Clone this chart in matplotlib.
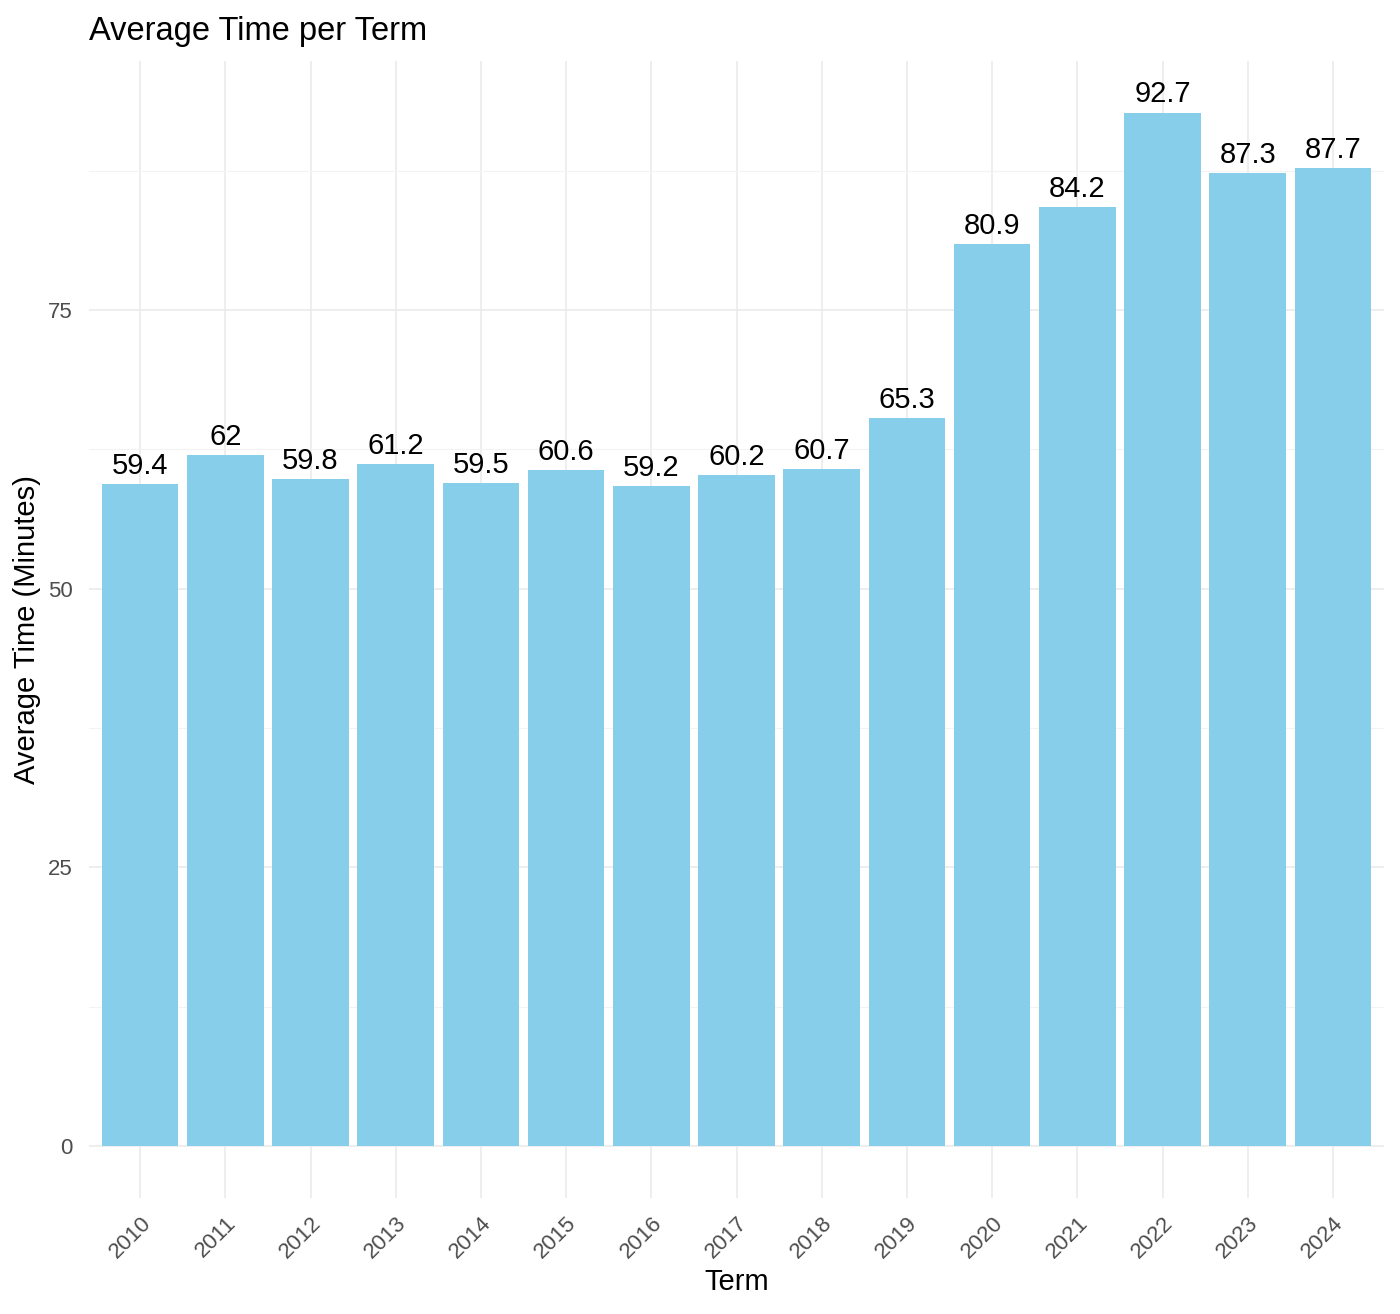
import numpy as np
import matplotlib
matplotlib.use("Agg")
from matplotlib import pyplot as plt

plt.rcParams['font.family'] = ['Liberation Sans', 'DejaVu Sans']

terms = [str(y) for y in range(2010, 2025)]
avg_time = [59.4, 62, 59.8, 61.2, 59.5, 60.6, 59.2, 60.2, 60.7, 65.3, 80.9, 84.2, 92.7, 87.3, 87.7]
labels = ["59.4", "62", "59.8", "61.2", "59.5", "60.6", "59.2", "60.2", "60.7",
          "65.3", "80.9", "84.2", "92.7", "87.3", "87.7"]

fig = plt.figure(figsize=(14, 13.14), dpi=100)
ax = fig.add_axes([0.0636, 0.0885, 0.925, 0.8651])

x = np.arange(1, len(terms) + 1)
ax.bar(x, avg_time, width=0.9, color='#87CEEB', zorder=2)
for xi, v, lab in zip(x, avg_time, labels):
    ax.annotate(lab, (xi, v), xytext=(0, 3), textcoords='offset points',
                ha='center', va='bottom', fontsize=21, color='black')

top = max(avg_time)
ax.set_xlim(0.4, len(terms) + 0.6)
ax.set_ylim(-top * 0.05, top * 1.05)

ax.set_xticks(x)
ax.set_xticklabels(terms, rotation=45, ha='right', rotation_mode='anchor',
                   fontsize=16, color='#4d4d4d')
ax.set_yticks([0, 25, 50, 75])
ax.set_yticks([12.5, 37.5, 62.5, 87.5], minor=True)
ax.tick_params(axis='y', labelsize=16, labelcolor='#4d4d4d', length=0, pad=12)
ax.tick_params(axis='y', which='minor', length=0)
ax.tick_params(axis='x', length=0, pad=11)

ax.grid(True, which='major', color='#ebebeb', linewidth=1.2, zorder=0)
ax.grid(True, which='minor', axis='y', color='#f3f3f3', linewidth=0.8, zorder=0)
ax.set_axisbelow(True)
for s in ax.spines.values():
    s.set_visible(False)

ax.set_xlabel("Term", fontsize=21, labelpad=4)
ax.set_ylabel("Average Time (Minutes)", fontsize=21, labelpad=5)
fig.text(0.0636, 0.976, "Average Time per Term", fontsize=23.5, ha='left', va='center')

fig.savefig("out.png", dpi=100, facecolor='white')
